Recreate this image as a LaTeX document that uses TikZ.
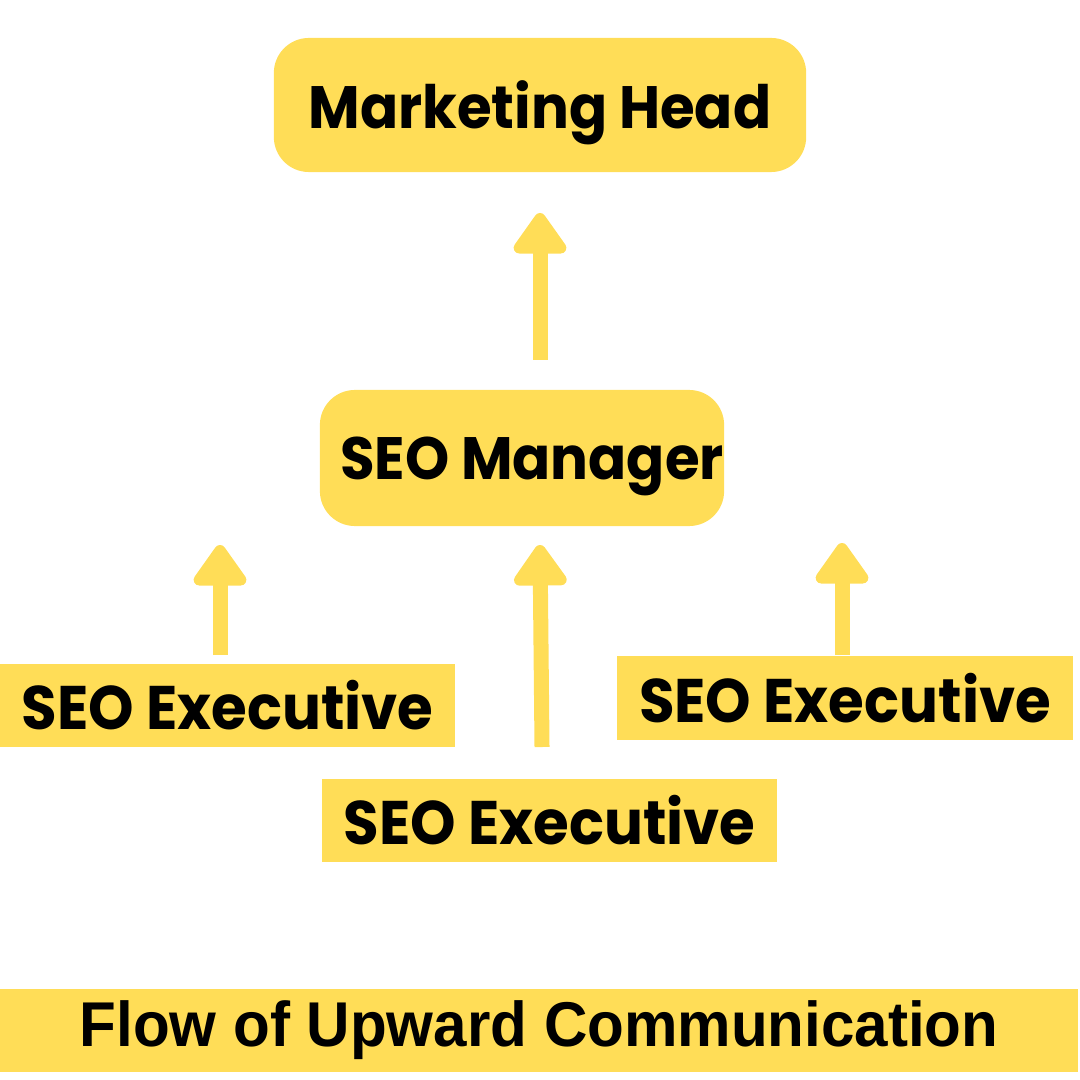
\documentclass[tikz,border=0pt]{standalone}
\usepackage{fontspec}
\setmainfont{Poppins}[FakeStretch=0.94]
\newfontfamily\titlefont[FakeStretch=0.95]{Liberation Sans}
\usetikzlibrary{arrows.meta}
\definecolor{seoyellow}{HTML}{FFDD57}
\tikzset{
  pill/.style={fill=seoyellow, rounded corners=0.35cm, inner sep=0pt, text depth=0pt,
    font=\fontsize{17}{20}\selectfont\bfseries},
  plate/.style={fill=seoyellow, inner sep=0pt, minimum width=4.55cm, minimum height=0.83cm,
    font=\fontsize{17.5}{20}\selectfont\bfseries},
  uparrow/.style={draw=seoyellow, line width=0.15cm, -{Triangle[width=0.6cm,length=0.45cm,round]}}
}
\begin{document}
\begin{tikzpicture}[x=0.01cm, y=-0.01cm]
  \useasboundingbox (0,0) rectangle (1080,1080);
  % boxes
  \node[pill, minimum width=5.32cm, minimum height=1.34cm] (head) at (540,105) {Marketing Head};
  \node[pill, minimum width=4.04cm, minimum height=1.36cm] (mgr) at (522,458) {\hspace*{0.2cm}SEO Manager};
  \node[plate] (exleft) at (227.5,705.5) {SEO Executive};
  \node[plate] (exright) at (845,698) {SEO Executive};
  \node[plate] (exmid) at (549.5,820.5) {SEO Executive};
  \node[fill=seoyellow, inner sep=0pt, minimum width=10.78cm, minimum height=0.83cm,
        font=\fontsize{18}{21}\selectfont\titlefont\bfseries] (title) at (539,1030.5) {Flow of Upward Communication};
  % arrows
  \coordinate (a1s) at (540,360);  \coordinate (a1e) at (540,213);
  \coordinate (a2s) at (220,655);  \coordinate (a2e) at (220,545);
  \coordinate (a3s) at (542,747);  \coordinate (a3e) at (540,545);
  \coordinate (a4s) at (842,655);  \coordinate (a4e) at (842,543);
  \draw[uparrow] (a1s) -- (a1e);
  \draw[uparrow] (a2s) -- (a2e);
  \draw[uparrow] (a3s) -- (a3e);
  \draw[uparrow] (a4s) -- (a4e);
\end{tikzpicture}
\end{document}
